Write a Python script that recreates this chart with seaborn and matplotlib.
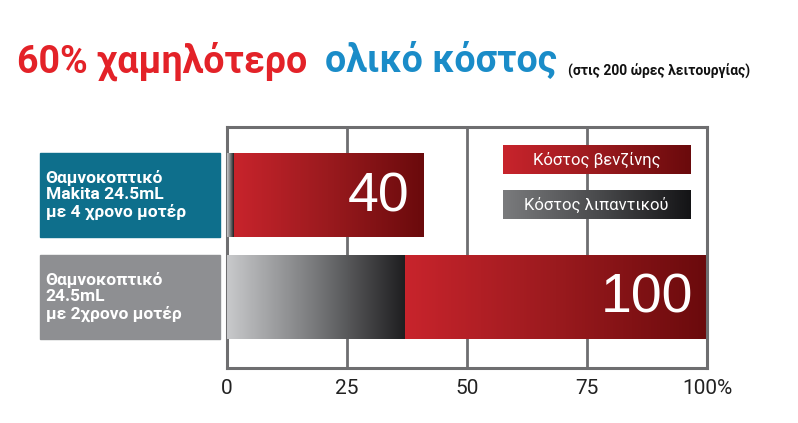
import numpy as np
import pandas as pd
import matplotlib
matplotlib.use("Agg")
import matplotlib.pyplot as plt
import seaborn as sns
from matplotlib.colors import LinearSegmentedColormap

products = ["Θαμνοκοπτικό\nMakita 24.5mL\nμε 4 χρονο μοτέρ", "Θαμνοκοπτικό\n24.5mL\nμε 2χρονο μοτέρ"]
oil_cost = [1.3, 37.0]
total_cost = [41.0, 100.0]
total_labels = ["40", "100"]
ticks = [0, 25, 50, 75, 100]
tick_labels = ["0", "25", "50", "75", "100%"]

sns.set_theme(style="white")
plt.rcParams["font.family"] = ["Roboto", "DejaVu Sans"]

red_cmap = LinearSegmentedColormap.from_list("r", ["#c8242c", "#9a1a1e", "#6a0a0c"])
gray_cmap = LinearSegmentedColormap.from_list("g", ["#c8c9cb", "#77787a", "#1e1e20"])
legend_gray = LinearSegmentedColormap.from_list("lg", ["#7a7b7d", "#4a4b4d", "#141416"])
grad = np.linspace(0, 1, 256).reshape(1, -1)

fig = plt.figure(figsize=(7.98, 4.23), dpi=100)
ax = fig.add_axes([0.2845, 0.130, 0.6015, 0.570])

df = pd.DataFrame({"product": products, "total": total_cost, "oil": oil_cost})
sns.barplot(data=df, y="product", x="total", orient="h", width=0.83, color="#b02026", ax=ax, zorder=2)
sns.barplot(data=df, y="product", x="oil", orient="h", width=0.83, color="#333333", ax=ax, zorder=3)

# gradient fills, clipped to bars
n = len(products)
for i, p in enumerate(ax.patches):
    x0, y0, w, h = p.get_x(), p.get_y(), p.get_width(), p.get_height()
    cmap = red_cmap if i < n else gray_cmap
    if i < n:
        x0, w = oil_cost[i], total_cost[i] - oil_cost[i]
        p.set_x(x0); p.set_width(w)
    im = ax.imshow(grad, cmap=cmap, aspect="auto", extent=[x0, x0 + w, y0 + h, y0],
                   zorder=p.get_zorder() + 0.5)
    im.set_clip_path(p)
    p.set_edgecolor("none")

for i in range(n):
    ax.text(total_cost[i] - 3.0, i + 0.02, total_labels[i], ha="right", va="center",
            color="white", fontsize=40, zorder=10, family=["Liberation Sans", "DejaVu Sans"])

ax.set_xlim(0, 100)
ax.set_ylim(1.70, -0.67)
ax.set_xticks(ticks)
ax.set_xticklabels(tick_labels, fontsize=15, color="#222222")
ax.set_yticks([])
ax.set_xlabel(""); ax.set_ylabel("")
ax.tick_params(axis="x", length=0, pad=8)
for s in ax.spines.values():
    s.set_color("#6e6e70"); s.set_linewidth(2.2)
for t in ticks[1:-1]:
    ax.axvline(t, color="#6e6e70", lw=2, zorder=1)

# category label boxes on the left
box_colors = ["#0e6f8c", "#8e8f92"]
for i, (lab, c) in enumerate(zip(products, box_colors)):
    ax.add_patch(plt.Rectangle((-39.0, i - 0.415), 37.5, 0.83, color=c, clip_on=False, zorder=5))
    ax.text(-37.8, i, lab, ha="left", va="center", color="white", fontsize=12.5,
            fontweight="bold", linespacing=1.1, clip_on=False, zorder=6)

# legend boxes
leg = [("Κόστος βενζίνης", red_cmap, -0.35), ("Κόστος λιπαντικού", legend_gray, 0.1)]
for txt, cmap, yc in leg:
    ax.imshow(grad, cmap=cmap, aspect="auto", extent=[57.5, 96.5, yc + 0.14, yc - 0.14], zorder=6)
    ax.text(77, yc, txt, ha="center", va="center", color="white", fontsize=12, zorder=7)
ax.set_xlim(0, 100)
ax.set_ylim(1.70, -0.67)

fig.text(0.021, 0.855, "60% χαμηλότερο", color="#e32228", fontsize=27, fontweight="bold", va="center")
fig.text(0.407, 0.855, "ολικό κόστος", color="#1a8cc8", fontsize=27, fontweight="bold", va="center")
fig.text(0.712, 0.832, "(στις 200 ώρες λειτουργίας)", color="#111111", fontsize=10, fontweight="bold", va="center")

fig.savefig("out.png", dpi=100)
